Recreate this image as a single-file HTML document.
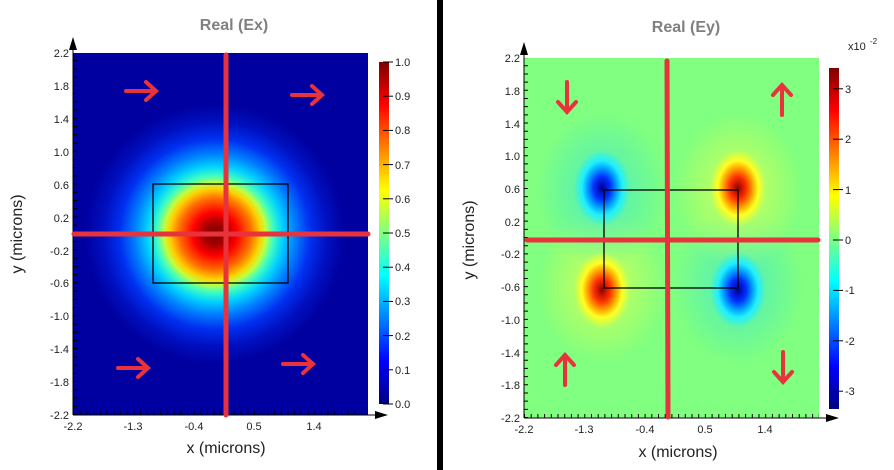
<!DOCTYPE html>
<html><head><meta charset="utf-8"><style>
html,body{margin:0;padding:0;background:#fff;width:894px;height:470px;overflow:hidden;position:relative}
.m{position:absolute}
svg{position:absolute;left:0;top:0}
text{font-family:"Liberation Sans",sans-serif}
</style></head><body>
<div class="m" style="left:73px;top:53px;width:295px;height:362px;background:
radial-gradient(circle 130px at 142px 181px,#800000 0px,#a00000 10px,#ff0000 22px,#ff7000 36px,#ffd000 45px,#c0ff40 51px,#40ffc0 58px,#00d0ff 68px,#0080ff 80px,#0030f0 95px,#0010c0 112px,rgba(0,0,160,0) 130px),#0000a0"></div>
<div class="m" style="left:524px;top:58px;width:295px;height:360px;background:
radial-gradient(ellipse 28px 38px at 78px 130px,#000090 0,#0030ff 30%,#00a0ff 52%,#20f0ff 72%,rgba(128,255,128,0) 100%),
radial-gradient(ellipse 28px 38px at 214px 130px,#900000 0,#ff3000 30%,#ffa000 52%,#ffff20 72%,rgba(128,255,128,0) 100%),
radial-gradient(ellipse 28px 38px at 78px 232px,#900000 0,#ff3000 30%,#ffa000 52%,#ffff20 72%,rgba(128,255,128,0) 100%),
radial-gradient(ellipse 28px 38px at 214px 232px,#000090 0,#0030ff 30%,#00a0ff 52%,#20f0ff 72%,rgba(128,255,128,0) 100%),
radial-gradient(ellipse 65px 78px at 78px 132px,rgba(70,235,200,0.9),rgba(128,255,128,0) 100%),
radial-gradient(ellipse 65px 78px at 214px 132px,rgba(220,255,80,0.9),rgba(128,255,128,0) 100%),
radial-gradient(ellipse 65px 78px at 78px 228px,rgba(220,255,80,0.9),rgba(128,255,128,0) 100%),
radial-gradient(ellipse 65px 78px at 214px 228px,rgba(70,235,200,0.9),rgba(128,255,128,0) 100%),
#80ff80"></div>
<div class="m" style="left:379px;top:62px;width:10px;height:342px;background:linear-gradient(#800000,#ff0000 12.5%,#ffff00 37.5%,#80ff80 50%,#00ffff 62.5%,#0000ff 87.5%,#000080)"></div>
<div class="m" style="left:829px;top:68px;width:10px;height:341px;background:linear-gradient(#800000,#ff0000 12.5%,#ffff00 37.5%,#80ff80 50%,#00ffff 62.5%,#0000ff 87.5%,#000080)"></div>
<svg width="894" height="470">
<rect x="437" y="0" width="6" height="470" fill="#000"/>
<g font-family="Liberation Serif" font-weight="bold" font-size="16" fill="#808080" text-anchor="middle">
<text x="234" y="30" font-family="Liberation Serif">Real (Ex)</text><text x="686" y="32" font-family="Liberation Serif">Real (Ey)</text></g>

<g stroke="#000" fill="none">
<line x1="73" y1="415" x2="73" y2="42"/><line x1="73" y1="415" x2="382" y2="415"/>
<line x1="524" y1="418" x2="524" y2="47"/><line x1="524" y1="418" x2="833" y2="418"/>
<line x1="75" y1="415" x2="75" y2="53" stroke-width="4" stroke-dasharray="1 7.23"/>
<line x1="73" y1="413" x2="368" y2="413" stroke-width="4" stroke-dasharray="1 5.7"/>
<line x1="526" y1="418" x2="526" y2="58" stroke-width="4" stroke-dasharray="1 7.18"/>
<line x1="524" y1="416" x2="819" y2="416" stroke-width="4" stroke-dasharray="1 5.7"/>
</g>
<g fill="#000">
<path d="M69 50l4-13 4 13z"/><path d="M375 411l13 4-13 4z"/>
<path d="M520 55l4-13 4 13z"/><path d="M826 414l13 4-13 4z"/>
</g>
<g font-size="11" fill="#222" text-anchor="middle">
<text x="73" y="430">-2.2</text><text x="133" y="430">-1.3</text><text x="194" y="430">-0.4</text><text x="254" y="430">0.5</text><text x="314" y="430">1.4</text>
<text x="524" y="433">-2.2</text><text x="584" y="433">-1.3</text><text x="645" y="433">-0.4</text><text x="705" y="433">0.5</text><text x="765" y="433">1.4</text>
</g>
<g font-size="11" fill="#222" text-anchor="end">
<text x="69" y="419">-2.2</text><text x="69" y="386">-1.8</text><text x="69" y="353">-1.4</text><text x="69" y="320">-1.0</text><text x="69" y="287">-0.6</text><text x="69" y="255">-0.2</text><text x="69" y="222">0.2</text><text x="69" y="189">0.6</text><text x="69" y="156">1.0</text><text x="69" y="123">1.4</text><text x="69" y="90">1.8</text><text x="69" y="57">2.2</text>
<text x="520" y="422">-2.2</text><text x="520" y="389">-1.8</text><text x="520" y="357">-1.4</text><text x="520" y="324">-1.0</text><text x="520" y="291">-0.6</text><text x="520" y="258">-0.2</text><text x="520" y="226">0.2</text><text x="520" y="193">0.6</text><text x="520" y="160">1.0</text><text x="520" y="128">1.4</text><text x="520" y="95">1.8</text><text x="520" y="62">2.2</text>
</g>
<g stroke="#000">
<line x1="383" y1="404" x2="393" y2="404"/><line x1="383" y1="369.8" x2="393" y2="369.8"/><line x1="383" y1="335.6" x2="393" y2="335.6"/><line x1="383" y1="301.4" x2="393" y2="301.4"/><line x1="383" y1="267.2" x2="393" y2="267.2"/><line x1="383" y1="233" x2="393" y2="233"/><line x1="383" y1="198.8" x2="393" y2="198.8"/><line x1="383" y1="164.6" x2="393" y2="164.6"/><line x1="383" y1="130.4" x2="393" y2="130.4"/><line x1="383" y1="96.2" x2="393" y2="96.2"/><line x1="383" y1="62" x2="393" y2="62"/>
<line x1="833" y1="88.8" x2="843" y2="88.8"/><line x1="833" y1="139.2" x2="843" y2="139.2"/><line x1="833" y1="189.6" x2="843" y2="189.6"/><line x1="833" y1="240" x2="843" y2="240"/><line x1="833" y1="290.4" x2="843" y2="290.4"/><line x1="833" y1="340.8" x2="843" y2="340.8"/><line x1="833" y1="391.2" x2="843" y2="391.2"/>
</g>
<g font-size="11" fill="#222">
<text x="395" y="408">0.0</text><text x="395" y="374">0.1</text><text x="395" y="340">0.2</text><text x="395" y="305">0.3</text><text x="395" y="271">0.4</text><text x="395" y="237">0.5</text><text x="395" y="203">0.6</text><text x="395" y="169">0.7</text><text x="395" y="134">0.8</text><text x="395" y="100">0.9</text><text x="395" y="66">1.0</text>
<text x="845" y="93">3</text><text x="845" y="143">2</text><text x="845" y="194">1</text><text x="845" y="244">0</text><text x="845" y="294">-1</text><text x="845" y="345">-2</text><text x="845" y="395">-3</text>
<text x="848" y="50">x10</text><text x="870" y="44" font-size="8">-2</text>
</g>
<g font-size="16" fill="#222">
<text x="226" y="453" text-anchor="middle">x  (microns)</text>
<text x="678" y="457" text-anchor="middle">x  (microns)</text>
<text transform="translate(22,234) rotate(-90)" text-anchor="middle">y  (microns)</text>
<text transform="translate(474,240) rotate(-90)" text-anchor="middle">y  (microns)</text>
</g>
<g fill="none" stroke="#000" stroke-width="1.3">
<rect x="153" y="184" width="135" height="99"/>
<rect x="604" y="190" width="134" height="98"/>
</g>
<g stroke="#e8333c" stroke-width="5" stroke-linecap="round" fill="none">
<line x1="226" y1="55" x2="226" y2="415"/><line x1="74" y1="234" x2="368" y2="234"/>
<line x1="667" y1="61" x2="668" y2="417"/><line x1="527" y1="240" x2="818" y2="240"/>
<g stroke-width="4">
<path d="M126 91h30M146 82l10 9-10 9"/><path d="M292 95h30M312 86l10 9-10 9"/>
<path d="M118 368h30M138 359l10 9-10 9"/><path d="M283 364h30M303 355l10 9-10 9"/>
<path d="M567 82v30M558 102l9 10 9-10"/><path d="M782 115v-30M773 95l9-10 9 10"/>
<path d="M565 385v-30M556 365l9-10 9 10"/><path d="M783 352v30M774 372l9 10 9-10"/>
</g></g>
</svg>
</body></html>
